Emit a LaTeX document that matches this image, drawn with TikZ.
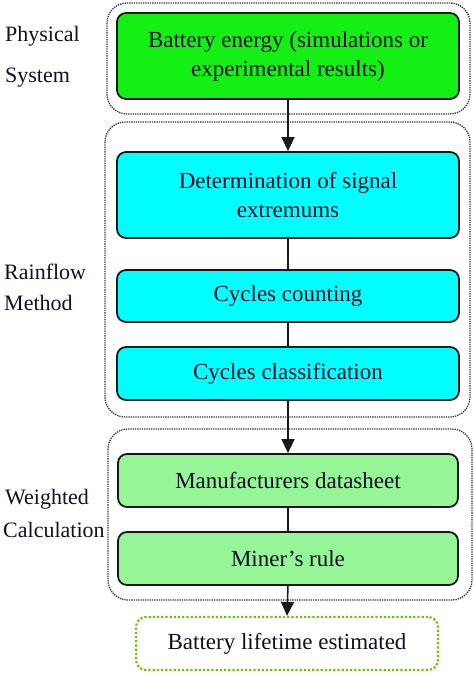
\documentclass[tikz,border=0pt]{standalone}
\usepackage{fontspec}
\setmainfont{Liberation Serif}
\usetikzlibrary{arrows.meta}
\definecolor{bgreen}{RGB}{20,240,20}
\definecolor{bcyan}{RGB}{0,255,255}
\definecolor{lgreen}{RGB}{150,245,150}
\definecolor{dgreen}{RGB}{100,200,0}
\definecolor{txt}{RGB}{15,15,40}
\begin{document}
\begin{tikzpicture}[x=1pt,y=-1pt,
  every node/.style={font=\fontsize{23}{29}\selectfont, text=txt},
  grp/.style={draw=black!80, densely dotted, line width=1.3pt, rounded corners=20pt},
  stepbox/.style={draw=black!90, line width=1.8pt, rounded corners=9pt, minimum width=342pt, align=center, inner sep=0pt},
  conn/.style={draw=black!90, line width=1.5pt},
  arr/.style={conn, -{Triangle[length=14pt,width=13pt]}},
  lab/.style={anchor=west, inner sep=0pt, font=\fontsize{22}{26}\selectfont}
]
\useasboundingbox (0,0) rectangle (474,675);
% groups
\draw[grp] (107,3) rectangle (470,114);
\draw[grp] (105,122) rectangle (470,417);
\draw[grp] (108,429) rectangle (472,600);
% boxes
\node[stepbox, fill=bgreen, minimum height=86pt] (b1) at (288,56) {Battery energy (simulations or\\experimental results)};
\node[stepbox, fill=bcyan, minimum height=86pt] (b2) at (288,195) {Determination of signal\\extremums};
\node[stepbox, fill=bcyan, minimum height=52pt] (b3) at (288,296) {Cycles counting};
\node[stepbox, fill=bcyan, minimum height=53pt] (b4) at (288,373.5) {Cycles classification};
\node[stepbox, fill=lgreen, minimum height=53pt, minimum width=340pt] (b5) at (288,480.5) {Manufacturers datasheet};
\node[stepbox, fill=lgreen, minimum height=53pt, minimum width=340pt] (b6) at (288,558.5) {Miner’s rule};
\node[draw=dgreen, line width=2.2pt, dotted, rounded corners=10pt, minimum width=302pt, minimum height=53pt, inner sep=0pt] (b7) at (287,643.5) {Battery lifetime estimated};
% connectors
\draw[arr] (b1.south) -- (b2.north);
\draw[conn] (b2.south) -- (b3.north);
\draw[conn] (b3.south) -- (b4.north);
\draw[arr] (b4.south) -- (b5.north);
\draw[conn, line width=2pt] (b5.south) -- (b6.north);
\draw[arr] (b6.south) -- (b7.north);
% labels
\node[lab] (l1) at (5,36) {Physical};
\node[lab] (l2) at (5,78) {System};
\node[lab] (l3) at (4,272) {Rainflow};
\node[lab] (l4) at (4,303) {Method};
\node[lab] (l5) at (5,499) {Weighted};
\node[lab] (l6) at (3,530) {Calculation};
\end{tikzpicture}
\end{document}
